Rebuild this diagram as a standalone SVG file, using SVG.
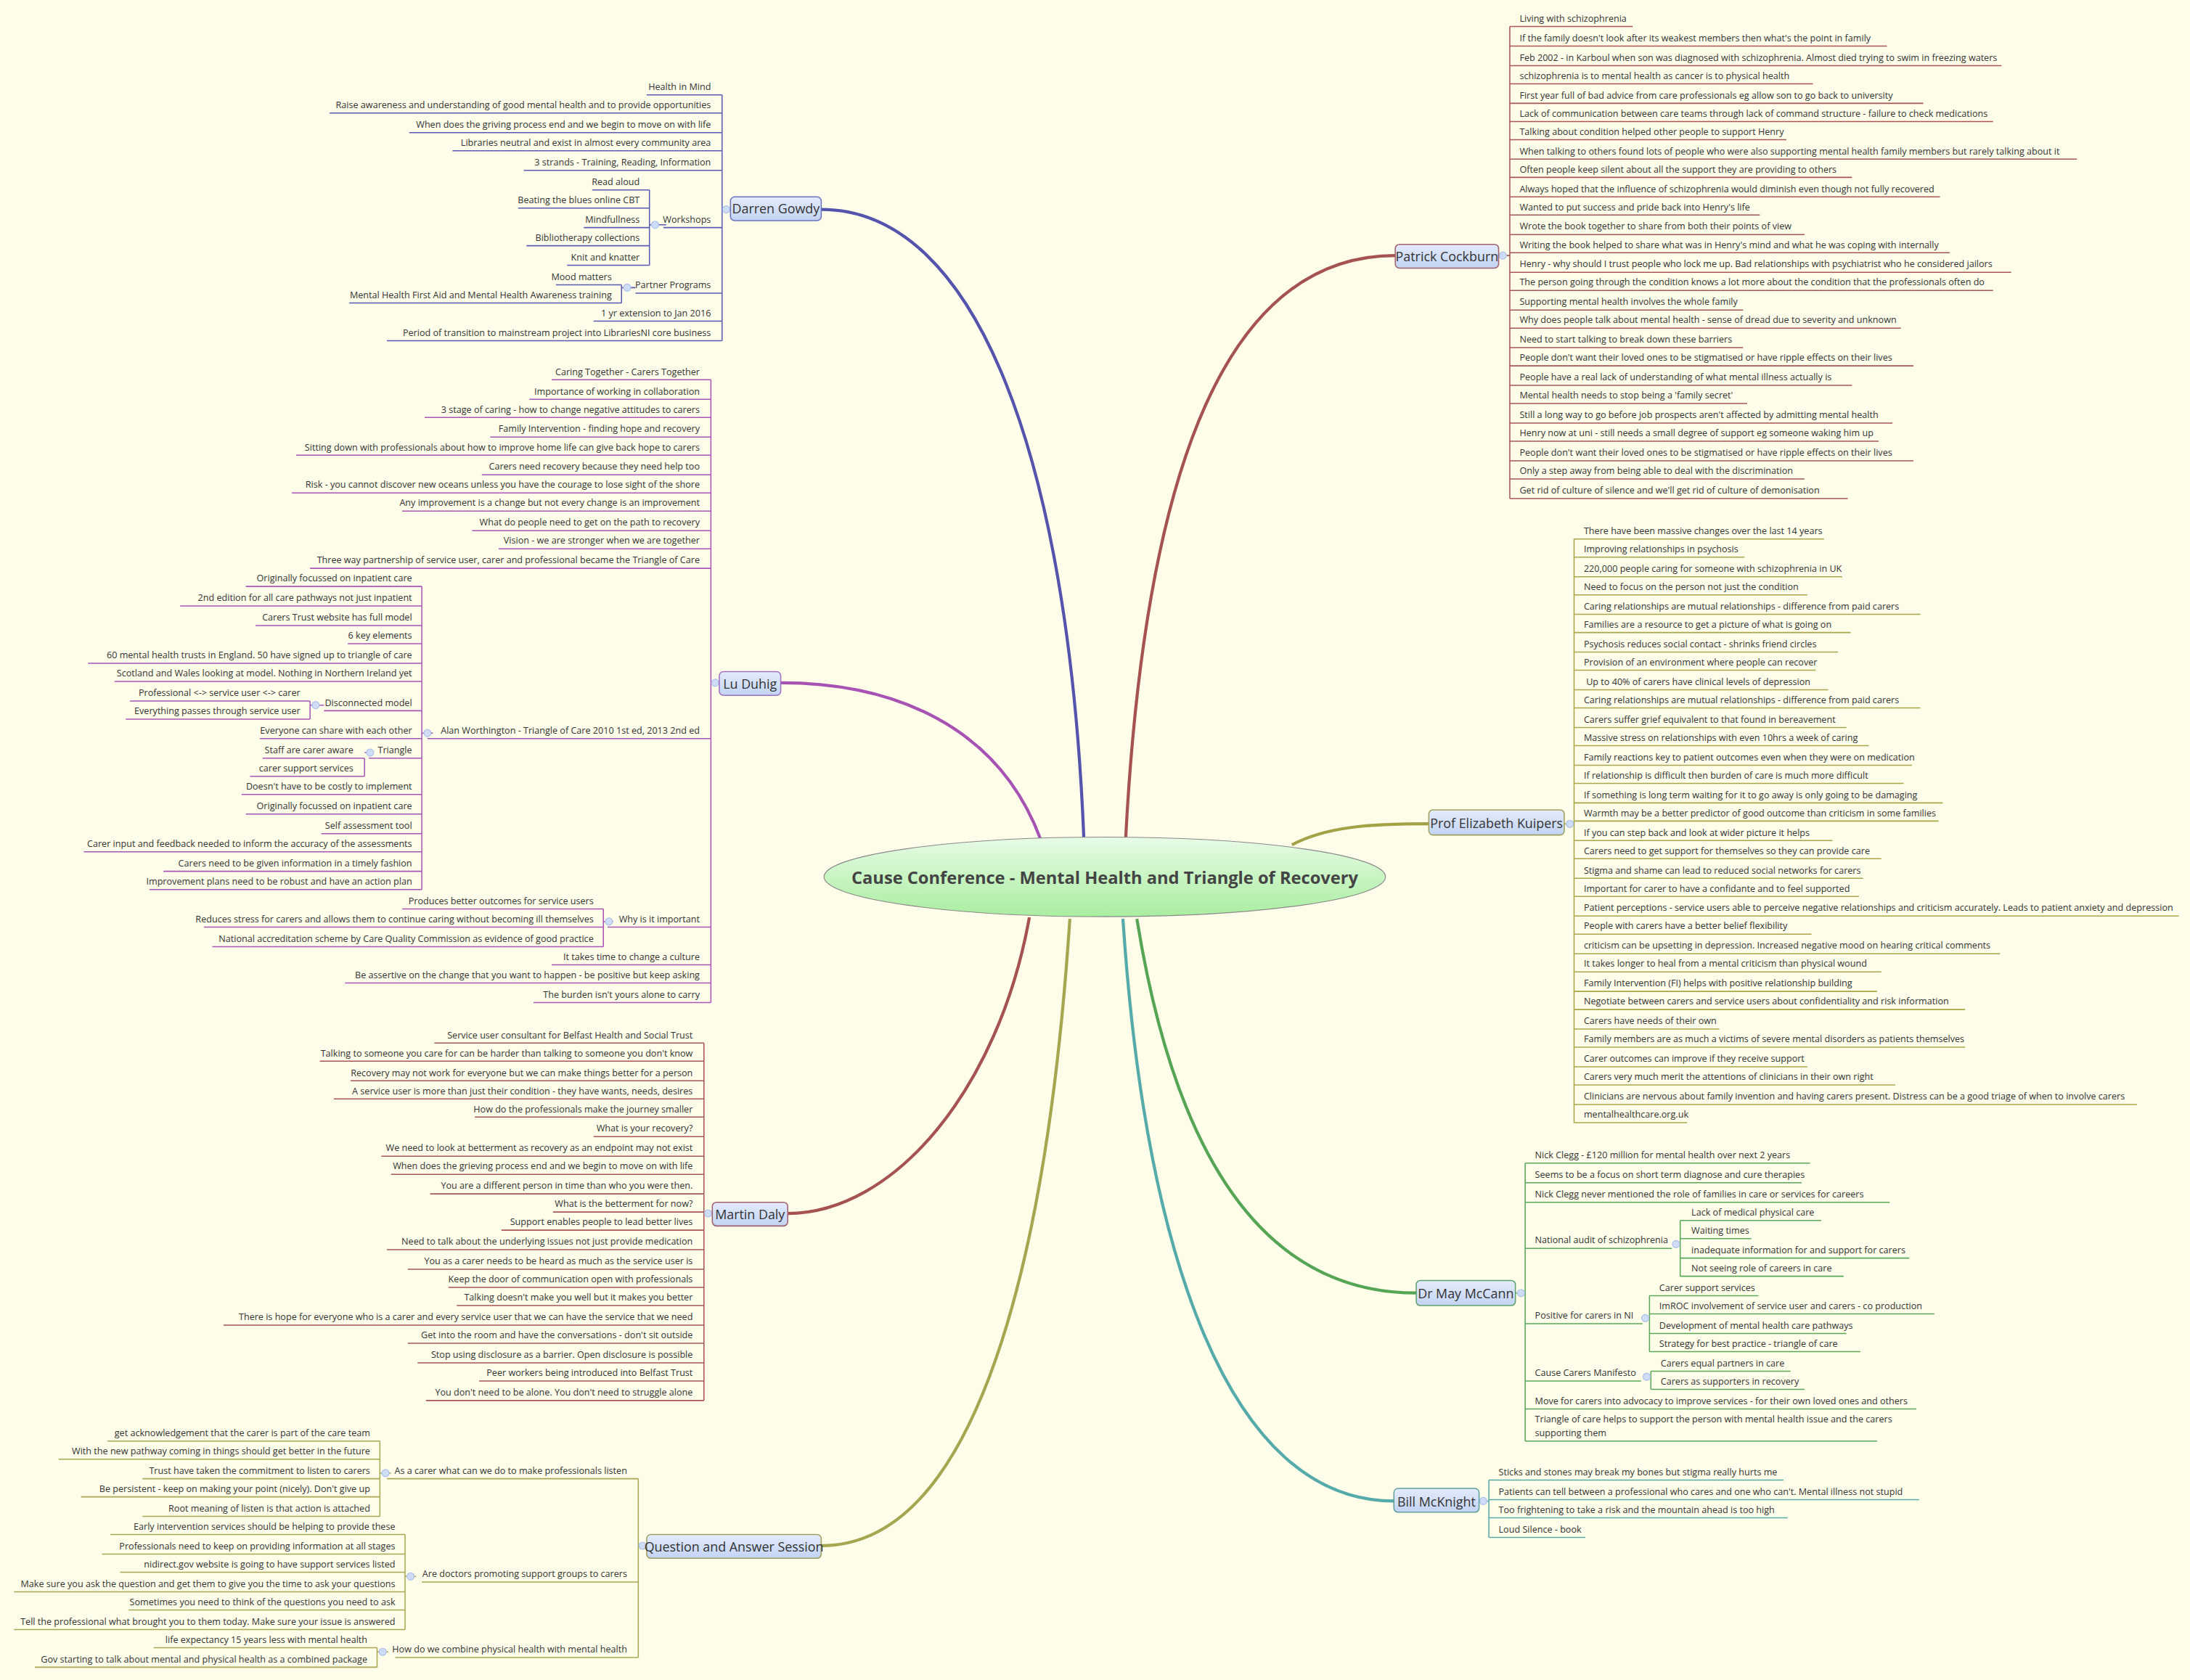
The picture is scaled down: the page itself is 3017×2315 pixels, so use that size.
<svg xmlns="http://www.w3.org/2000/svg" width="3017" height="2315" viewBox="0 0 3017 2315">
<defs>
<linearGradient id="gb" x1="0" y1="0" x2="0" y2="1"><stop offset="0" stop-color="#e4ecfb"/><stop offset="1" stop-color="#c2d3f3"/></linearGradient>
<linearGradient id="gg" x1="0" y1="0" x2="0" y2="1"><stop offset="0" stop-color="#e8fbe6"/><stop offset="1" stop-color="#a9eea0"/></linearGradient>
<style>
text{font-family:"Open Sans","Noto Sans",sans-serif;font-size:6.55px;fill:#333}
.e{text-anchor:end}
.n{font-size:9.3px;text-anchor:middle;fill:#333}
.t{font-size:12.3px;font-weight:bold;text-anchor:middle;fill:#444;font-family:"Open Sans","Noto Sans",sans-serif}
.l{fill:none;stroke-width:0.8}
.c{fill:#cfdcf5;stroke:#aac0ea;stroke-width:0.6}
.box{stroke-width:0.8}
.m{fill:none;stroke-width:2.2}
</style>
</defs>
<rect width="3017" height="2315" fill="#fefde9"/>
<g transform="scale(1.9241)">
<g id="connectors">
<path class="m" stroke="#5454ac" d="M776,600 C765,330 700,150 588,150"/>
<path class="m" stroke="#a653b4" d="M745,601 C715,520 640,489 559,489"/>
<path class="m" stroke="#a55252" d="M737,657 C715,780 640,869 564,869"/>
<path class="m" stroke="#a4a650" d="M766,658 C750,900 700,1107 588,1107"/>
<path class="m" stroke="#a55252" d="M806,600 C820,330 880,183 999,183"/>
<path class="m" stroke="#a4a246" d="M925,605 C950,592 980,590 1023,590"/>
<path class="m" stroke="#55a555" d="M814,658 C840,820 900,926 1014,926"/>
<path class="m" stroke="#55aaaa" d="M804,658 C820,900 880,1075 998,1075"/>
</g>
<g id="center"><ellipse cx="791" cy="628" rx="201" ry="28.5" fill="url(#gg)" stroke="#888" stroke-width="0.6"/><text class="t" x="791" y="633">Cause Conference - Mental Health and Triangle of Recovery</text></g>

<g id="darren">
<path class="l" stroke="#5a5ab4" d="M463,68H517M236,81H517M293,95H517M324,108H517M375,122H517M475,163H517M455,210H517M425,230H517M277,244H517M517,68V244M424,136H465M371,149H465M418,163H465M377,176H465M406,190H465M465,136V190M398,204H445M250,217H445M445,204V217M465,161H477M445,206H455M517,150H523"/>
<circle class="c" cx="469" cy="161" r="2.6"/><circle class="c" cx="449" cy="206" r="2.6"/><circle class="c" cx="520" cy="150" r="2.6"/>
<rect class="box" x="523" y="141" width="65" height="17" rx="3" fill="url(#gb)" stroke="#6a72c0"/>
<text class="n" x="555.5" y="153">Darren Gowdy</text>
<text class="e" x="509" y="64.5">Health in Mind</text>
<text class="e" x="509" y="77.5">Raise awareness and understanding of good mental health and to provide opportunities</text>
<text class="e" x="509" y="91.5">When does the griving process end and we begin to move on with life</text>
<text class="e" x="509" y="104.5">Libraries neutral and exist in almost every community area</text>
<text class="e" x="509" y="118.5">3 strands - Training, Reading, Information</text>
<text class="e" x="509" y="159.5">Workshops</text>
<text class="e" x="509" y="206.5">Partner Programs</text>
<text class="e" x="509" y="226.5">1 yr extension to Jan 2016</text>
<text class="e" x="509" y="240.5">Period of transition to mainstream project into LibrariesNI core business</text>
<text class="e" x="458" y="132.5">Read aloud</text>
<text class="e" x="458" y="145.5">Beating the blues online CBT</text>
<text class="e" x="458" y="159.5">Mindfullness</text>
<text class="e" x="458" y="172.5">Bibliotherapy collections</text>
<text class="e" x="458" y="186.5">Knit and knatter</text>
<text class="e" x="438" y="200.5">Mood matters</text>
<text class="e" x="438" y="213.5">Mental Health First Aid and Mental Health Awareness training</text>
</g>

<g id="lu">
<path class="l" stroke="#a957b7" d="M395,272H509M379,286H509M304,299H509M351,313H509M212,326H509M345,340H509M209,353H509M288,366H509M338,380H509M357,393H509M222,407H509M306,529H509M435,664H509M395,691H509M247,704H509M382,718H509M509,272V718M509,489H515M176,420H302M129,434H302M183,448H302M249,461H302M63,475H302M82,488H302M232,509H302M186,529H302M264,543H302M173,569H302M176,583H302M230,597H302M60,610H302M117,624H302M107,637H302M302,420V637M93,502H222M90,515H222M222,502V515M188,543H261M179,556H261M261,543V556M288,651H432M146,664H432M152,678H432M432,651V678M222,505H232M261,539H264M302,525H310M432,660H439"/>
<circle class="c" cx="226" cy="505" r="2.6"/><circle class="c" cx="265" cy="539" r="2.6"/><circle class="c" cx="306" cy="525" r="2.6"/><circle class="c" cx="436" cy="660" r="2.6"/><circle class="c" cx="512" cy="489" r="2.6"/>
<rect class="box" x="515" y="481" width="44" height="17" rx="3" fill="url(#gb)" stroke="#a070c0"/>
<text class="n" x="537" y="493">Lu Duhig</text>
<text class="e" x="501" y="268.5">Caring Together - Carers Together</text>
<text class="e" x="501" y="282.5">Importance of working in collaboration</text>
<text class="e" x="501" y="295.5">3 stage of caring - how to change negative attitudes to carers</text>
<text class="e" x="501" y="309.5">Family Intervention - finding hope and recovery</text>
<text class="e" x="501" y="322.5">Sitting down with professionals about how to improve home life can give back hope to carers</text>
<text class="e" x="501" y="336.5">Carers need recovery  because they need help too</text>
<text class="e" x="501" y="349.5">Risk - you cannot discover new oceans unless you have the courage to lose sight of the shore</text>
<text class="e" x="501" y="362.5">Any improvement is a change but not every change is an improvement</text>
<text class="e" x="501" y="376.5">What do people need to get on the path to recovery</text>
<text class="e" x="501" y="389.5">Vision - we are stronger when we are together</text>
<text class="e" x="501" y="403.5">Three way partnership of service user, carer and professional became the Triangle of Care</text>
<text class="e" x="501" y="525.5">Alan Worthington - Triangle of Care 2010 1st ed, 2013 2nd ed</text>
<text class="e" x="501" y="660.5">Why is it important</text>
<text class="e" x="501" y="687.5">It takes time to change a culture</text>
<text class="e" x="501" y="700.5">Be assertive on the change that you want to happen - be positive but keep asking</text>
<text class="e" x="501" y="714.5">The burden isn't yours alone to carry</text>
<text class="e" x="295" y="416.5">Originally focussed on inpatient care</text>
<text class="e" x="295" y="430.5">2nd edition for all care pathways not just inpatient</text>
<text class="e" x="295" y="444.5">Carers Trust website has full model</text>
<text class="e" x="295" y="457.5">6 key elements</text>
<text class="e" x="295" y="471.5">60 mental health trusts in England. 50 have signed up to triangle of care</text>
<text class="e" x="295" y="484.5">Scotland and Wales looking at model. Nothing in Northern Ireland yet</text>
<text class="e" x="295" y="505.5">Disconnected model</text>
<text class="e" x="295" y="525.5">Everyone can share with each other</text>
<text class="e" x="295" y="539.5">Triangle</text>
<text class="e" x="295" y="565.5">Doesn't have to be costly to implement</text>
<text class="e" x="295" y="579.5">Originally focussed on inpatient care</text>
<text class="e" x="295" y="593.5">Self assessment tool</text>
<text class="e" x="295" y="606.5">Carer input and feedback needed to inform the accuracy of the assessments</text>
<text class="e" x="295" y="620.5">Carers need to be given information in a timely fashion</text>
<text class="e" x="295" y="633.5">Improvement plans need to be robust and have an action plan</text>
<text class="e" x="215" y="498.5">Professional &lt;-&gt; service user &lt;-&gt; carer</text>
<text class="e" x="215" y="511.5">Everything passes through service user</text>
<text class="e" x="253" y="539.5">Staff are carer aware</text>
<text class="e" x="253" y="552.5">carer support services</text>
<text class="e" x="425" y="647.5">Produces better outcomes for service users</text>
<text class="e" x="425" y="660.5">Reduces stress for carers and allows them to continue caring without becoming ill themselves</text>
<text class="e" x="425" y="674.5">National accreditation scheme by Care Quality Commission as evidence of good practice</text>
</g>

<g id="martin">
<path class="l" stroke="#a85555" d="M311,747H504M229,760H504M251,774H504M239,787H504M340,800H504M425,814H504M273,828H504M280,841H504M308,855H504M396,868H504M359,881H504M277,895H504M292,909H504M321,922H504M327,935H504M160,949H504M292,962H504M299,976H504M343,989H504M305,1003H504M504,747V1003M504,869H510"/>
<circle class="c" cx="507" cy="869" r="2.6"/>
<rect class="box" x="510" y="861" width="54" height="17" rx="3" fill="url(#gb)" stroke="#a06070"/>
<text class="n" x="537" y="873">Martin Daly</text>
<text class="e" x="496" y="743.5">Service user consultant for Belfast Health and Social Trust</text>
<text class="e" x="496" y="756.5">Talking to someone you care for can be harder than talking to someone you don't know</text>
<text class="e" x="496" y="770.5">Recovery may not work for everyone but we can make things better for a person</text>
<text class="e" x="496" y="783.5">A service user is more than just their condition - they have wants, needs, desires</text>
<text class="e" x="496" y="796.5">How do the professionals make the journey smaller</text>
<text class="e" x="496" y="810.5">What is your recovery?</text>
<text class="e" x="496" y="824.5">We need to look at betterment as recovery as an endpoint may not exist</text>
<text class="e" x="496" y="837.5">When does the grieving process end and we begin to move on with life</text>
<text class="e" x="496" y="851.5">You are a different person in time than who you were then.</text>
<text class="e" x="496" y="864.5">What is the betterment for now?</text>
<text class="e" x="496" y="877.5">Support enables people to lead better lives</text>
<text class="e" x="496" y="891.5">Need to talk about the underlying issues not just  provide medication</text>
<text class="e" x="496" y="905.5">You as a carer needs to be heard as much as the service user is</text>
<text class="e" x="496" y="918.5">Keep the door of communication open with professionals</text>
<text class="e" x="496" y="931.5">Talking doesn't make you well but it makes you better</text>
<text class="e" x="496" y="945.5">There is hope for everyone who is a carer and every service user that we can have the service that we need</text>
<text class="e" x="496" y="958.5">Get into the room and have the conversations - don't sit outside</text>
<text class="e" x="496" y="972.5">Stop using disclosure as a barrier. Open disclosure is possible</text>
<text class="e" x="496" y="985.5">Peer workers being introduced into Belfast Trust</text>
<text class="e" x="496" y="999.5">You don't need to be alone. You don't need to struggle alone</text>
</g>

<g id="qa">
<path class="l" stroke="#a8a852" d="M277,1059H457M302,1133H457M283,1187H457M457,1059V1187M457,1107H463M77,1032H272M42,1045H272M102,1059H272M58,1072H272M102,1086H272M272,1032V1086M79,1099H290M73,1113H290M86,1126H290M10,1140H290M92,1153H290M10,1167H290M290,1099V1167M110,1180H270M25,1194H270M270,1180V1194M272,1055H280M290,1129H298M270,1183H278"/>
<circle class="c" cx="276" cy="1055" r="2.6"/><circle class="c" cx="294" cy="1129" r="2.6"/><circle class="c" cx="274" cy="1183" r="2.6"/><circle class="c" cx="460" cy="1107" r="2.6"/>
<rect class="box" x="463" y="1099" width="125" height="17" rx="3" fill="url(#gb)" stroke="#a0a060"/>
<text class="n" x="525.5" y="1111">Question and Answer Session</text>
<text class="e" x="449" y="1055.5">As a carer what can we do to make professionals listen</text>
<text class="e" x="449" y="1129.5">Are doctors promoting support groups to carers</text>
<text class="e" x="449" y="1183.5">How do we combine physical health with mental health</text>
<text class="e" x="265" y="1028.5">get acknowledgement that the carer is part of the care team</text>
<text class="e" x="265" y="1041.5">With the new pathway coming in things should get better in the future</text>
<text class="e" x="265" y="1055.5">Trust have taken the commitment to listen to carers</text>
<text class="e" x="265" y="1068.5">Be persistent - keep on making your point (nicely). Don't give up</text>
<text class="e" x="265" y="1082.5">Root meaning of listen  is that action is attached</text>
<text class="e" x="283" y="1095.5">Early intervention  services should be helping to provide these</text>
<text class="e" x="283" y="1109.5">Professionals need to keep on providing information at all stages</text>
<text class="e" x="283" y="1122.5">nidirect.gov website is going to have support services listed</text>
<text class="e" x="283" y="1136.5">Make sure you ask the question and get them to give you the time to ask your questions</text>
<text class="e" x="283" y="1149.5">Sometimes you need to think of the questions you need to ask</text>
<text class="e" x="283" y="1163.5">Tell the professional what brought you to them today. Make sure your issue is answered</text>
<text class="e" x="263" y="1176.5">life expectancy 15 years less with mental health</text>
<text class="e" x="263" y="1190.5">Gov starting to talk about mental and physical health as a combined package</text>
</g>

<g id="patrick">
<path class="l" stroke="#a85555" d="M1081,19H1169M1081,33H1351M1081,47H1433M1081,60H1298M1081,74H1377M1081,87H1427M1081,100H1279M1081,114H1487M1081,127H1326M1081,141H1389M1081,154H1260M1081,168H1292M1081,181H1396M1081,195H1440M1081,208H1427M1081,222H1248M1081,235H1361M1081,249H1248M1081,262H1370M1081,276H1326M1081,289H1251M1081,303H1355M1081,316H1345M1081,330H1370M1081,343H1292M1081,357H1323M1081,19V357M1073,183H1081"/>
<circle class="c" cx="1076" cy="183" r="2.6"/>
<rect class="box" x="999" y="175" width="74" height="17" rx="3" fill="url(#gb)" stroke="#a06070"/>
<text class="n" x="1036" y="187">Patrick Cockburn</text>
<text x="1088" y="15.5">Living with schizophrenia</text>
<text x="1088" y="29.5">If the family doesn't look after its weakest members then what's the point in family</text>
<text x="1088" y="43.5">Feb 2002 - in Karboul when son was diagnosed with schizophrenia. Almost died trying to swim in freezing waters</text>
<text x="1088" y="56.5">schizophrenia is to mental health as cancer is to physical health</text>
<text x="1088" y="70.5">First year full of bad advice from care professionals eg allow son to go back to university</text>
<text x="1088" y="83.5">Lack of communication between care teams through lack of command structure - failure to check medications</text>
<text x="1088" y="96.5">Talking about condition helped other people to support Henry</text>
<text x="1088" y="110.5">When talking to others found lots of people who were also supporting mental health family members but rarely talking about it</text>
<text x="1088" y="123.5">Often people keep silent about all the support they are providing to others</text>
<text x="1088" y="137.5">Always hoped that the influence of schizophrenia would diminish even though not fully recovered</text>
<text x="1088" y="150.5">Wanted to put success and pride back into Henry's life</text>
<text x="1088" y="164.5">Wrote the book together to share from both their points of view</text>
<text x="1088" y="177.5">Writing the book helped to share what was in Henry's mind and what he was coping with internally</text>
<text x="1088" y="191.5">Henry - why should I trust people who lock me up. Bad relationships with psychiatrist who he considered jailors</text>
<text x="1088" y="204.5">The person going through the condition knows a lot more about the condition that the professionals often do</text>
<text x="1088" y="218.5">Supporting mental health involves the whole family</text>
<text x="1088" y="231.5">Why does people talk about mental health - sense of dread due to severity and unknown</text>
<text x="1088" y="245.5">Need to start talking to break down these barriers</text>
<text x="1088" y="258.5">People don't want their loved ones to be stigmatised or have ripple effects on their lives</text>
<text x="1088" y="272.5">People have a real lack of understanding of what mental illness actually is</text>
<text x="1088" y="285.5">Mental health needs to stop being a 'family secret'</text>
<text x="1088" y="299.5">Still a long way to go before job prospects aren't affected by admitting mental health</text>
<text x="1088" y="312.5">Henry now at uni - still needs a small degree of support eg someone waking him up</text>
<text x="1088" y="326.5">People don't want their loved ones to be stigmatised or have ripple effects on their lives</text>
<text x="1088" y="339.5">Only a step away from being able to deal with the discrimination</text>
<text x="1088" y="353.5">Get  rid of culture of silence and we'll get rid of culture of demonisation</text>
</g>

<g id="kuipers">
<path class="l" stroke="#a8a648" d="M1127,386H1306M1127,399H1249M1127,413H1319M1127,426H1294M1127,440H1375M1127,453H1325M1127,467H1316M1127,480H1300M1127,494H1309M1127,507H1375M1127,521H1322M1127,534H1338M1127,548H1369M1127,561H1363M1127,575H1391M1127,588H1388M1127,602H1312M1127,615H1347M1127,629H1334M1127,642H1331M1127,656H1560M1127,669H1297M1127,683H1432M1127,696H1347M1127,710H1344M1127,723H1407M1127,737H1231M1127,750H1407M1127,764H1294M1127,777H1357M1127,791H1530M1127,804H1208M1127,386V804M1120,590H1127"/>
<circle class="c" cx="1124" cy="590" r="2.6"/>
<rect class="box" x="1023" y="580" width="97" height="18" rx="3" fill="url(#gb)" stroke="#a0a060"/>
<text class="n" x="1071.5" y="593">Prof Elizabeth Kuipers</text>
<text x="1134" y="382.5">There have been massive changes over the last 14 years</text>
<text x="1134" y="395.5">Improving relationships in psychosis</text>
<text x="1134" y="409.5">220,000 people caring for someone with schizophrenia in UK</text>
<text x="1134" y="422.5">Need to focus on the person not just the condition</text>
<text x="1134" y="436.5">Caring relationships are mutual relationships - difference from paid carers</text>
<text x="1134" y="449.5">Families are a resource to get a picture of what is going on</text>
<text x="1134" y="463.5">Psychosis reduces social contact - shrinks friend circles</text>
<text x="1134" y="476.5">Provision of an environment where people can recover</text>
<text x="1134" y="490.5" xml:space="preserve"> Up to 40% of carers have clinical levels of depression</text>
<text x="1134" y="503.5">Caring relationships are mutual relationships - difference from paid carers</text>
<text x="1134" y="517.5">Carers suffer grief equivalent to that found in bereavement</text>
<text x="1134" y="530.5">Massive stress on relationships with even 10hrs a week of caring</text>
<text x="1134" y="544.5">Family reactions key to patient outcomes even when they were on medication</text>
<text x="1134" y="557.5">If relationship is difficult then burden of care is much more difficult</text>
<text x="1134" y="571.5">If something is long term waiting for it to go away is only going to be damaging</text>
<text x="1134" y="584.5">Warmth may be a better predictor of good outcome than criticism in some families</text>
<text x="1134" y="598.5">If you can step back and look at wider picture it helps</text>
<text x="1134" y="611.5">Carers need to get support for themselves so they can provide care</text>
<text x="1134" y="625.5">Stigma and shame can lead to reduced social networks for carers</text>
<text x="1134" y="638.5">Important for carer to have a confidante and to feel supported</text>
<text x="1134" y="652.5">Patient perceptions - service users able to perceive negative relationships and criticism accurately. Leads to patient anxiety and depression</text>
<text x="1134" y="665.5">People with carers have a better belief flexibility</text>
<text x="1134" y="679.5">criticism can be upsetting in depression. Increased negative mood on hearing critical comments</text>
<text x="1134" y="692.5">It takes longer to heal from a mental criticism than physical wound</text>
<text x="1134" y="706.5">Family Intervention (FI) helps with positive relationship building</text>
<text x="1134" y="719.5">Negotiate between carers and service users about confidentiality and risk information</text>
<text x="1134" y="733.5">Carers have needs of their own</text>
<text x="1134" y="746.5">Family members are as much a victims of severe mental disorders as patients themselves</text>
<text x="1134" y="760.5">Carer outcomes can improve if they receive support</text>
<text x="1134" y="773.5">Carers very much merit the attentions of clinicians in their own right</text>
<text x="1134" y="787.5">Clinicians are nervous about family invention and having carers present. Distress can be a good triage of when to involve carers</text>
<text x="1134" y="800.5">mentalhealthcare.org.uk</text>
</g>

<g id="mccann">
<path class="l" stroke="#5aa85a" d="M1092,833H1296M1092,847H1290M1092,861H1353M1092,894H1197M1092,948H1176M1092,989H1175M1092,1009H1372M1092,1032H1344M1092,833V1032M1085,926H1092M1203,874H1304M1203,887H1254M1203,901H1367M1203,914H1320M1203,874V914M1181,928H1259M1181,941H1385M1181,955H1322M1181,968H1332M1181,928V968M1182,982H1282M1182,995H1292M1182,982V995"/>
<circle class="c" cx="1200" cy="891" r="2.6"/><circle class="c" cx="1178" cy="944" r="2.6"/><circle class="c" cx="1179" cy="986" r="2.6"/><circle class="c" cx="1089" cy="926" r="2.6"/>
<rect class="box" x="1014" y="917" width="71" height="18" rx="3" fill="url(#gb)" stroke="#60a070"/>
<text class="n" x="1049.5" y="930">Dr May McCann</text>
<text x="1099" y="829.5">Nick Clegg - £120 million for mental health over next 2 years</text>
<text x="1099" y="843.5">Seems to be a focus on short term diagnose and cure therapies</text>
<text x="1099" y="857.5">Nick Clegg never mentioned the role of families in care or services for careers</text>
<text x="1099" y="890.5">National audit of schizophrenia</text>
<text x="1099" y="944.5">Positive for carers in NI</text>
<text x="1099" y="985.5">Cause Carers Manifesto</text>
<text x="1099" y="1005.5">Move for carers into advocacy to improve services - for their own loved ones and others</text>
<text x="1099" y="1018.5">Triangle of care helps to support the person with mental health issue and the carers</text>
<text x="1099" y="1028.5">supporting them</text>
<text x="1211" y="870.5">Lack of medical physical care</text>
<text x="1211" y="883.5">Waiting times</text>
<text x="1211" y="897.5">inadequate information for and support for carers</text>
<text x="1211" y="910.5">Not seeing role of careers in care</text>
<text x="1188" y="924.5">Carer support services</text>
<text x="1188" y="937.5">ImROC involvement of service user and carers - co production</text>
<text x="1188" y="951.5">Development of mental health care pathways</text>
<text x="1188" y="964.5">Strategy for best practice - triangle of care</text>
<text x="1189" y="978.5">Carers equal partners in care</text>
<text x="1189" y="991.5">Carers as supporters in recovery</text>
</g>

<g id="bill">
<path class="l" stroke="#5aaaaa" d="M1066,1060H1277M1066,1074H1374M1066,1087H1280M1066,1101H1135M1066,1060V1101M1059,1075H1066"/>
<circle class="c" cx="1062" cy="1075" r="2.6"/>
<rect class="box" x="998" y="1066" width="61" height="17" rx="3" fill="url(#gb)" stroke="#60a0a0"/>
<text class="n" x="1028.5" y="1079">Bill McKnight</text>
<text x="1073" y="1056.5">Sticks and stones may break my bones but stigma really hurts me</text>
<text x="1073" y="1070.5">Patients can tell between a professional who cares and one who can't. Mental illness not stupid</text>
<text x="1073" y="1083.5">Too frightening to take a risk and the mountain ahead is too high</text>
<text x="1073" y="1097.5">Loud Silence - book</text>
</g>
</g>
</svg>
